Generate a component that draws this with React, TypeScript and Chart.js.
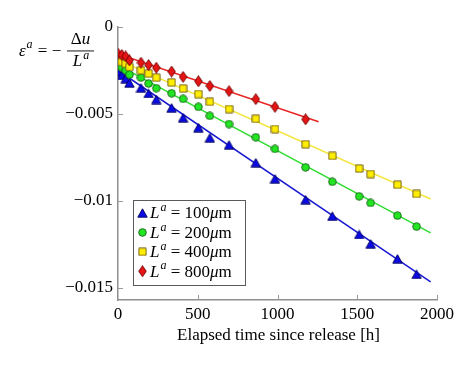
import React, { useEffect, useRef } from "react";
import { Chart, registerables } from "chart.js";

Chart.register(...registerables);

// ---- data ----
const times = [0, 24, 48, 72, 144, 192, 240, 336, 408, 504, 576, 696, 864, 984, 1176, 1344, 1512, 1584, 1752, 1872];
const strain100 = [-2.59, -2.78, -2.97, -3.22, -3.5, -3.82, -4.17, -4.65, -5.22, -5.79, -6.37, -6.78, -7.8, -8.73, -9.93, -10.88, -11.93, -12.47, -13.33, -14.22];
const strain200 = [-2.24, -2.34, -2.49, -2.74, -2.91, -3.25, -3.52, -3.81, -4.13, -4.59, -5.11, -5.58, -6.34, -7.01, -8.07, -8.9, -9.74, -10.12, -10.85, -11.48];
const strain400 = [-1.92, -2.01, -2.11, -2.3, -2.49, -2.68, -2.91, -3.19, -3.54, -3.86, -4.3, -4.72, -5.28, -5.87, -6.74, -7.41, -8.14, -8.46, -9.07, -9.6];
const strain800 = [-1.53, -1.61, -1.69, -1.92, -2.05, -2.19, -2.34, -2.56, -2.87, -3.12, -3.39, -3.69, -4.15, -4.59, -5.31];
// fitted lines (end points, x in h, y in 1e-3)
const fitX = [0, 1960];
const fitX800 = [0, 1258];
const fit100 = [-2.5, -14.66];
const fit200 = [-2.2, -11.84];
const fit400 = [-1.9, -9.89];
const fit800 = [-1.55, -5.45];
const seriesLabels = ["100", "200", "400", "800"];
const xTicks = [0, 500, 1000, 1500, 2000];
const xTickLabels = ["0", "500", "1000", "1500", "2000"];
const yTicks = [0, -0.005, -0.01, -0.015];
const yTickLabels = ["0", "\u22120.005", "\u22120.01", "\u22120.015"];
const xTitle = "Elapsed time since release [h]";

const FONT = "'Liberation Serif', 'DejaVu Serif', serif";
const FS = 17;
const SUP = 12;

function makeMarker(shape: string, fill: string, stroke: string): HTMLCanvasElement {
  const c = document.createElement("canvas");
  let w = 9, h = 9;
  if (shape === "triangle") { w = 11; h = 10; }
  if (shape === "diamond") { w = 9; h = 12; }
  c.width = w; c.height = h;
  const ctx = c.getContext("2d")!;
  ctx.beginPath();
  if (shape === "triangle") {
    ctx.moveTo(5.5, 0.8); ctx.lineTo(10.2, 9.2); ctx.lineTo(0.8, 9.2); ctx.closePath();
  } else if (shape === "circle") {
    ctx.arc(4.5, 4.5, 3.8, 0, Math.PI * 2);
  } else if (shape === "square") {
    ctx.rect(0.9, 0.9, 7.2, 7.2);
  } else {
    ctx.moveTo(4.5, 0.6); ctx.lineTo(8.3, 6); ctx.lineTo(4.5, 11.4); ctx.lineTo(0.7, 6); ctx.closePath();
  }
  ctx.fillStyle = fill;
  ctx.fill();
  ctx.lineWidth = 0.9;
  ctx.strokeStyle = stroke;
  ctx.stroke();
  return c;
}

export default function App() {
  const ref = useRef<HTMLCanvasElement | null>(null);
  useEffect(() => {
    const canvas = ref.current!;
    const markers = [
      makeMarker("triangle", "#0a0ae6", "#00005a"),
      makeMarker("circle", "#22e622", "#155c15"),
      makeMarker("square", "#ffee00", "#6e5a14"),
      makeMarker("diamond", "#e61414", "#6e0000"),
    ];
    const lineColors = ["#1a1ad2", "#30dd30", "#f5e63c", "#e82424"];
    const strains = [strain100, strain200, strain400, strain800];
    const fits = [fit100, fit200, fit400, fit800];
    const fitXs = [fitX, fitX, fitX, fitX800];

    const datasets: any[] = [];
    for (let i = 0; i < 4; i++) {
      datasets.push({
        type: "scatter",
        label: seriesLabels[i],
        data: strains[i].map((v, k) => ({ x: times[k], y: v / 1000 })),
        pointStyle: markers[i],
        pointRadius: 5,
        showLine: false,
        order: 10 - i,
      });
    }
    for (let i = 0; i < 4; i++) {
      datasets.push({
        type: "line",
        label: "fit" + seriesLabels[i],
        data: fits[i].map((v, k) => ({ x: fitXs[i][k], y: v / 1000 })),
        borderColor: lineColors[i],
        borderWidth: 1.5,
        pointRadius: 0,
        fill: false,
        order: 20 - i,
      });
    }

    const decor = {
      id: "decor",
      afterDraw(chart: any) {
        const ctx = chart.ctx as CanvasRenderingContext2D;
        const { left, bottom } = chart.chartArea;
        const xs = chart.scales.x, ys = chart.scales.y;
        ctx.save();
        // inward ticks
        ctx.strokeStyle = "#9a9a9a";
        ctx.lineWidth = 1;
        xTicks.forEach((t) => {
          if (t === 0) return;
          const px = Math.round(xs.getPixelForValue(t)) + 0.5;
          ctx.beginPath(); ctx.moveTo(px, bottom); ctx.lineTo(px, bottom - 5); ctx.stroke();
        });
        yTicks.forEach((t) => {
          const py = Math.round(ys.getPixelForValue(t)) + 0.5;
          ctx.beginPath(); ctx.moveTo(left, py); ctx.lineTo(left + 5, py); ctx.stroke();
        });
        // x title
        ctx.fillStyle = "#000";
        ctx.font = `${FS}px ${FONT}`;
        ctx.textAlign = "center";
        ctx.textBaseline = "middle";
        ctx.fillText(xTitle, (chart.chartArea.left + chart.chartArea.right) / 2 + 1, 336);
        // y label:  ε^a = − Δu / L^a
        ctx.textAlign = "left";
        ctx.font = `italic ${FS}px ${FONT}`;
        ctx.fillText("\u03b5", 19, 52);
        ctx.font = `italic ${SUP}px ${FONT}`;
        ctx.fillText("a", 26.5, 45);
        ctx.font = `${FS}px ${FONT}`;
        ctx.textAlign = "center";
        ctx.fillText("=", 42.5, 52);
        ctx.fillText("\u2212", 56.5, 52);
        ctx.fillRect(67, 50.5, 27, 0.9);
        ctx.font = `${FS}px ${FONT}`;
        const dW = ctx.measureText("\u0394").width;
        ctx.font = `italic ${FS}px ${FONT}`;
        const uW = ctx.measureText("u").width;
        let sx = 80.5 - (dW + uW) / 2;
        ctx.textAlign = "left";
        ctx.font = `${FS}px ${FONT}`;
        ctx.fillText("\u0394", sx, 40);
        ctx.font = `italic ${FS}px ${FONT}`;
        ctx.fillText("u", sx + dW, 40);
        ctx.font = `italic ${FS}px ${FONT}`;
        const lW = ctx.measureText("L").width;
        ctx.font = `italic ${SUP}px ${FONT}`;
        const aW = ctx.measureText("a").width;
        sx = 81 - (lW + aW + 1) / 2;
        ctx.font = `italic ${FS}px ${FONT}`;
        ctx.fillText("L", sx, 62);
        ctx.font = `italic ${SUP}px ${FONT}`;
        ctx.fillText("a", sx + lW + 1, 56);
        // legend
        const bx = 133, by = 200, bw = 112, bh = 85;
        ctx.fillStyle = "#fff";
        ctx.fillRect(bx, by, bw, bh);
        ctx.strokeStyle = "#5a5a5a";
        ctx.lineWidth = 1;
        ctx.strokeRect(bx + 0.5, by + 0.5, bw, bh);
        for (let i = 0; i < 4; i++) {
          const cy = 213 + i * 19.4;
          const m = markers[i];
          ctx.drawImage(m, 142.5 - m.width / 2, cy - m.height / 2);
          ctx.fillStyle = "#000";
          ctx.textBaseline = "middle";
          let tx = 150;
          ctx.font = `italic ${FS}px ${FONT}`;
          ctx.fillText("L", tx, cy + 1);
          tx += ctx.measureText("L").width + 1;
          ctx.font = `italic ${SUP}px ${FONT}`;
          ctx.fillText("a", tx, cy - 5);
          tx += ctx.measureText("a").width;
          ctx.font = `${FS}px ${FONT}`;
          const mid = " = " + seriesLabels[i];
          ctx.fillText(mid, tx, cy + 1);
          tx += ctx.measureText(mid).width;
          ctx.font = `italic ${FS}px ${FONT}`;
          ctx.fillText("\u03bc", tx, cy + 1);
          tx += ctx.measureText("\u03bc").width;
          ctx.font = `${FS}px ${FONT}`;
          ctx.fillText("m", tx, cy + 1);
        }
        ctx.restore();
      },
    };

    const chart = new Chart(canvas, {
      type: "scatter",
      data: { datasets },
      options: {
        responsive: false,
        animation: false,
        devicePixelRatio: 1,
        layout: { padding: { left: 0, right: 37, top: 27, bottom: 0 } },
        plugins: { legend: { display: false }, tooltip: { enabled: false } },
        scales: {
          x: {
            type: "linear",
            min: 0,
            max: 2000,
            afterBuildTicks: (s: any) => { s.ticks = xTicks.map((v) => ({ value: v })); },
            ticks: {
              font: { family: FONT, size: FS },
              color: "#000",
              padding: 4,
              maxRotation: 0,
              autoSkip: false,
              callback: (v: any, i: number) => xTickLabels[i],
            },
            grid: { display: false, drawTicks: false },
            border: { color: "#8f8f8f", width: 1.5 },
            afterFit: (s: any) => { s.height = 65; },
          },
          y: {
            type: "linear",
            min: -0.0157,
            max: 0,
            afterBuildTicks: (s: any) => { s.ticks = yTicks.map((v) => ({ value: v })); },
            ticks: {
              font: { family: FONT, size: FS },
              color: "#000",
              padding: 5,
              autoSkip: false,
              callback: (v: any, i: number) => yTickLabels[i],
            },
            grid: { display: false, drawTicks: false },
            border: { color: "#8f8f8f", width: 1.5 },
            afterFit: (s: any) => { s.width = 118; },
          },
        },
      },
      plugins: [decor],
    } as any);
    return () => chart.destroy();
  }, []);
  return (
    <div style={{ position: "fixed", left: 0, top: 0, width: 474, height: 365, background: "#fff" }}>
      <canvas ref={ref} width={474} height={365} style={{ width: 474, height: 365, display: "block" }} />
    </div>
  );
}
